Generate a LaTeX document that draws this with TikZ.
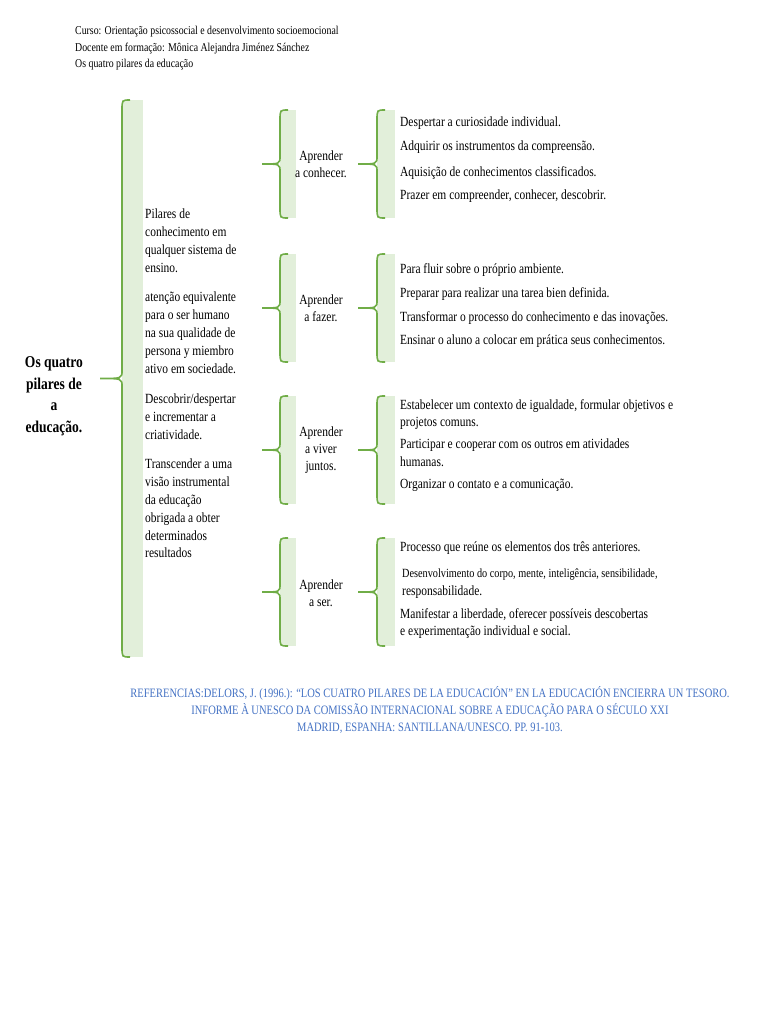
\documentclass[tikz,border=0pt]{standalone}
\usepackage{fontspec}
\setmainfont[FakeStretch=0.82]{Liberation Serif}
\usetikzlibrary{positioning}
\definecolor{bracegreen}{RGB}{112,173,71}
\definecolor{bracefill}{RGB}{226,239,218}
\definecolor{refblue}{RGB}{68,114,196}
\tikzset{
  txt/.style={anchor=north west,inner sep=0pt,font=\fontsize{14}{17.8}\selectfont,align=left},
  pillar/.style={align=center,inner sep=0pt,font=\fontsize{14}{17}\selectfont},
  head/.style={anchor=north west,inner sep=0pt,font=\fontsize{12}{16.5}\selectfont,align=left}
}
% bracket: x left, x right, y top, y bottom, x tip
\newcommand\bracket[5]{%
  \fill[bracefill] (#1,#3) rectangle (#2,#4);
  \draw[bracegreen,line width=1.6pt]
    (#1+8,#3) .. controls (#1,#3) .. (#1,#3+10) -- (#1,{(#3+#4)/2-8})
    .. controls (#1,{(#3+#4)/2}) .. (#5,{(#3+#4)/2})
    .. controls (#1,{(#3+#4)/2}) .. (#1,{(#3+#4)/2+8}) -- (#1,#4-10)
    .. controls (#1,#4) .. (#1+8,#4);
}
\begin{document}
\begin{tikzpicture}[x=1pt,y=-1pt]
\useasboundingbox[fill=white] (0,0) rectangle (768,1024);

% header
\node[head] (curso) at (75,26) {Curso: Orientação psicossocial e desenvolvimento socioemocional\\
Docente em formação: Mônica Alejandra Jiménez Sánchez\\
Os quatro pilares da educação};

% brackets
\bracket{122}{143}{100}{657}{100}
\foreach \yt in {110,254,396,538} {
  \bracket{280}{296}{\yt}{\yt+108}{262}
  \bracket{377}{395}{\yt}{\yt+108}{358}
}

% title
\node[font=\bfseries\fontsize{16.5}{21.5}\selectfont,align=center,inner sep=0pt] (title) at (54,396)
  {Os quatro\\ pilares de\\ a\\ educação.};

% middle column
\node[txt] (pilares) at (145,209) {Pilares de\\ conhecimento em\\ qualquer sistema de\\ ensino.};
\node[txt] (atencao) at (145,292) {atenção equivalente\\ para o ser humano\\ na sua qualidade de\\ persona y miembro\\ ativo em sociedade.};
\node[txt] (descobrir) at (145,394) {Descobrir/despertar\\ e incrementar a\\ criatividade.};
\node[txt] (transcender) at (145,459) {Transcender a uma\\ visão instrumental\\ da educação\\ obrigada a obter\\ determinados\\ resultados};

% pillars
\node[pillar] (conhecer) at (321,164) {Aprender\\ a conhecer.};
\node[pillar] (fazer) at (321,308) {Aprender\\ a fazer.};
\node[pillar] (viver) at (321,450) {Aprender\\ a viver\\ juntos.};
\node[pillar] (ser) at (321,593) {Aprender\\ a ser.};

% items
\node[txt] (c1) at (400,117) {Despertar a curiosidade individual.};
\node[txt] (c2) at (400,141) {Adquirir os instrumentos da compreensão.};
\node[txt] (c3) at (400,166) {Aquisição de conhecimentos classificados.};
\node[txt] (c4) at (400,190) {Prazer em compreender, conhecer, descobrir.};

\node[txt] (f1) at (400,263) {Para fluir sobre o próprio ambiente.};
\node[txt] (f2) at (400,287) {Preparar para realizar una tarea bien definida.};
\node[txt] (f3) at (400,311) {Transformar o processo do conhecimento e das inovações.};
\node[txt] (f4) at (400,335) {Ensinar o aluno a colocar em prática seus conhecimentos.};

\node[txt] (v1) at (400,399) {Estabelecer um contexto de igualdade, formular objetivos e\\ projetos comuns.};
\node[txt] (v2) at (400,439) {Participar e cooperar com os outros em atividades\\ humanas.};
\node[txt] (v3) at (400,479) {Organizar o contato e a comunicação.};

\node[txt] (s1) at (400,542) {Processo que reúne os elementos dos três anteriores.};
\node[txt,font=\fontsize{12.5}{17.5}\selectfont] (s2) at (402,569) {Desenvolvimento do corpo, mente, inteligência, sensibilidade,};
\node[txt] (s2b) at (402,586) {responsabilidade.};
\node[txt] (s3) at (400,608) {Manifestar a liberdade, oferecer possíveis descobertas\\ e experimentação individual e social.};

% reference
\node[align=center,text=refblue,inner sep=0pt,font=\fontsize{12.8}{17}\selectfont] (ref) at (430,710)
  {REFERENCIAS:DELORS, J. (1996.): “LOS CUATRO PILARES DE LA EDUCACIÓN” EN LA EDUCACIÓN ENCIERRA UN TESORO.\\
   INFORME À UNESCO DA COMISSÃO INTERNACIONAL SOBRE A EDUCAÇÃO PARA O SÉCULO XXI\\
   MADRID, ESPANHA: SANTILLANA/UNESCO. PP. 91-103.};
\end{tikzpicture}
\end{document}
